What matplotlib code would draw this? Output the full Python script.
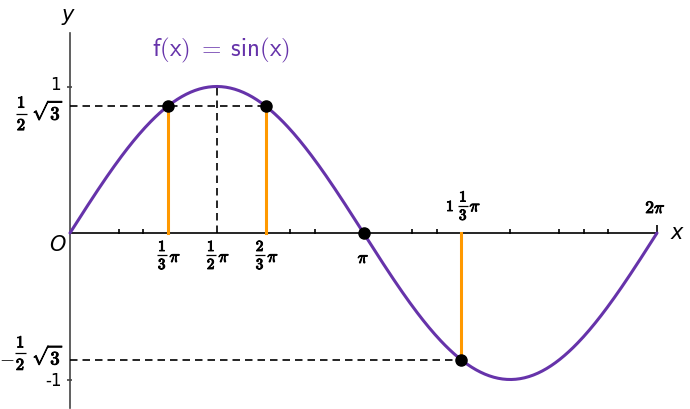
import numpy as np
import matplotlib
matplotlib.use("Agg")
import matplotlib.pyplot as plt
import matplotlib.patheffects as pe

plt.rcParams['mathtext.fontset'] = 'cm'

PI = np.pi
# data
x_curve = np.linspace(0, 2 * PI, 400)
points_x = [PI / 3, 2 * PI / 3, PI, 4 * PI / 3]
orange_x = [PI / 3, 2 * PI / 3, 4 * PI / 3]
minor_ticks = [PI / 6, PI / 4, 3 * PI / 4, 5 * PI / 6, 7 * PI / 6, 5 * PI / 4,
               3 * PI / 2, 5 * PI / 3, 7 * PI / 4, 11 * PI / 6]
frac_ticks = [(PI / 3, '1', '3'), (PI / 2, '1', '2'), (2 * PI / 3, '2', '3')]
s3 = np.sqrt(3) / 2

PURPLE = '#6633aa'
ORANGE = '#ff9900'
BOLD = [pe.withStroke(linewidth=0.7, foreground='black')]

W, H = 690, 409
fig = plt.figure(figsize=(W / 100, H / 100), dpi=100)
ax = fig.add_axes([0, 0, 1, 1])
ax.axis('off')

# pixel mapping
x0px, x2pipx = 70, 657
ux = (x2pipx - x0px) / (2 * PI)
y0px, uy = 233, 146.5
ax.set_xlim(-x0px / ux, (W - x0px) / ux)
ax.set_ylim(-(H - y0px) / uy, y0px / uy)

tx = 1 / uy  # one pixel in y units
px = 1 / ux  # one pixel in x units

# axes lines
ax.plot([0, 0], [-(408 - y0px) / uy, (y0px - 33) / uy], color='#444444', lw=1.2, zorder=2)
ax.plot([0, 2 * PI], [0, 0], color='black', lw=1.2, zorder=2)

# ticks
ax.vlines(minor_ticks, -1 * tx, 4 * tx, color='black', lw=1.2, zorder=2)
ax.vlines([2 * PI], -1 * tx, 8 * tx, color='black', lw=1.2, zorder=2)
ax.hlines([1, -1], -3 * px, 2 * px, color='#444444', lw=1.2, zorder=2)

# dashed guides
dash = dict(color='black', lw=1.2, linestyle=(0, (4.5, 3)), zorder=3)
ax.plot([0, 2 * PI / 3], [s3, s3], **dash)
ax.plot([PI / 2, PI / 2], [0, 1], **dash)
ax.plot([0, 4 * PI / 3], [-s3, -s3], **dash)

# orange verticals
for xv in orange_x:
    ax.plot([xv, xv], [0, np.sin(xv)], color=ORANGE, lw=2.2, zorder=4)

# curve
ax.plot(x_curve, np.sin(x_curve), color=PURPLE, lw=2.2, zorder=5, solid_capstyle='round')

# points
ax.plot(points_x, np.sin(points_x), 'o', color='black', ms=8, zorder=6)

# title and axis names
ax.text(PI / 2 + 4 * px, (y0px - 50) / uy, r'$\mathsf{f(x)}\;=\;\mathsf{sin(x)}$',
        color=PURPLE, fontsize=18, ha='center', va='center')
ax.text(-2 * px, (y0px - 15) / uy, 'y', fontsize=15, style='italic',
        family='DejaVu Sans', ha='center', va='center')
ax.text(2 * PI + 20 * px, 0, 'x', fontsize=15, style='italic',
        family='DejaVu Sans', ha='center', va='center')
ax.text(-13 * px, -12 * tx, 'O', fontsize=15, style='italic',
        family='DejaVu Sans', ha='center', va='center')

# y tick labels
ax.text(-9 * px, 1 + 1 * tx, '1', fontsize=12, family='DejaVu Sans',
        ha='right', va='center')
ax.text(-8 * px, -1 - 1.5 * tx, '-1', fontsize=12, family='DejaVu Sans',
        ha='right', va='center')


def btext(x, y, s, fs):
    ax.text(x, y, s, fontsize=fs, ha='center', va='center', path_effects=BOLD)


def frac(xc, ybar, n, d, fs, up, down, half):
    btext(xc, ybar + up * tx, r'$\mathbf{%s}$' % n, fs)
    btext(xc, ybar - down * tx, r'$\mathbf{%s}$' % d, fs)
    ax.plot([xc - half * px, xc + half * px], [ybar, ybar], color='black',
            lw=0.9, solid_capstyle='butt')


# +/- 1/2 sqrt3
frac(-48.5 * px, s3 - 7.5 * tx, '1', '2', 12, 11, 11.5, 5.5)
ax.text(-22 * px, s3 - 13.5 * tx, r'$\sqrt{\mathbf{3}}$', fontsize=13.5,
        ha='center', va='baseline', path_effects=BOLD)
ax.text(-63 * px, -s3 + 2.5 * tx, r'$-$', fontsize=14, ha='center', va='center')
frac(-49.5 * px, -s3 + 6.5 * tx, '1', '2', 12, 11, 11.5, 5.5)
ax.text(-22 * px, -s3 - 4.5 * tx, r'$\sqrt{\mathbf{3}}$', fontsize=13.5,
        ha='center', va='baseline', path_effects=BOLD)

# x tick labels below
for xv, n, d in frac_ticks:
    frac(xv - 5.5 * px, -22 * tx, n, d, 11, 8.5, 9.5, 5)
    btext(xv + 7.5 * px, -24 * tx, r'$\pi$', 12.5)
btext(PI, -25 * tx, r'$\pi$', 12.5)

# x tick labels above
btext(4 * PI / 3 - 11 * px, 26.5 * tx, r'$\mathbf{1}$', 11)
frac(4 * PI / 3 + 2 * px, 27 * tx, '1', '3', 11, 9, 9.3, 5)
btext(4 * PI / 3 + 14 * px, 26.5 * tx, r'$\pi$', 12.5)
btext(2 * PI - 1.5 * px, 25 * tx, r'$\mathbf{2}\pi$', 12.5)

fig.savefig('out.png', dpi=100)
